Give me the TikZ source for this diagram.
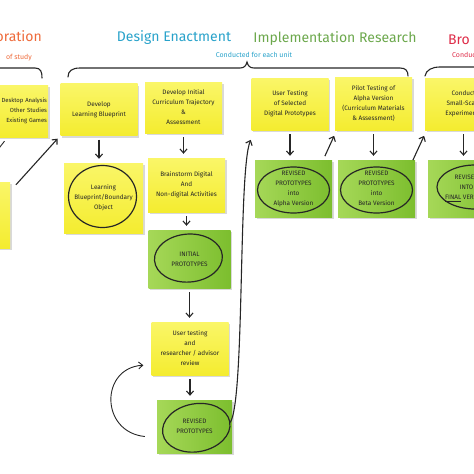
\documentclass[tikz,border=0pt]{standalone}
\usepackage{fontspec}
\setmainfont{Fira Sans}
\usetikzlibrary{shadows,arrows.meta}

\definecolor{postit}{RGB}{244,236,48}
\definecolor{postitlight}{RGB}{250,246,104}
\definecolor{leaf}{RGB}{124,190,46}
\definecolor{leaflight}{RGB}{166,216,88}
\definecolor{explcol}{RGB}{238,106,58}
\definecolor{designcol}{RGB}{40,162,202}
\definecolor{implcol}{RGB}{108,168,76}
\definecolor{broadcol}{RGB}{222,44,72}

\tikzset{
  note/.style={minimum width=77pt, minimum height=52pt, inner sep=1pt, align=center,
    font=\fontsize{6.4}{10}\selectfont, text=black!85,
    drop shadow={shadow xshift=1.5pt, shadow yshift=-2pt, opacity=0.3}},
  yellownote/.style={note, top color=postitlight, bottom color=postit},
  greennote/.style={note, left color=leaflight, right color=leaf},
  ring/.style={black!85, line width=1.2pt},
  flow/.style={->, black!85, line width=1.1pt, shorten >=4pt, shorten <=4pt},
  curveflow/.style={->, black!85, line width=0.9pt},
  brace/.style={black!85, line width=1.1pt, line cap=round},
  heading/.style={inner sep=0pt, font=\fontsize{14}{14}\selectfont},
  subheading/.style={inner sep=0pt, font=\fontsize{7}{7}\selectfont},
}

\begin{document}
\begin{tikzpicture}[x=1pt, y=-1pt, >={Straight Barb[length=4pt,width=7pt]}]
  \useasboundingbox (0,0) rectangle (474,474);
  \clip (0,0) rectangle (474,474);

  % phase titles
  \node[heading, text=explcol, anchor=east] (explore) at (42,38) {Exploration};
  \node[subheading, text=explcol, anchor=east] (exploresub) at (32,58) {of study};
  \node[heading, text=designcol] (design) at (174,38) {Design Enactment};
  \node[heading, text=implcol] (implement) at (335,39) {Implementation Research};
  \node[subheading, text=designcol] (eachunit) at (254,55) {Conducted for each unit};
  \node[heading, text=broadcol, anchor=west] (broad) at (448,40) {Bro};
  \node[subheading, text=broadcol, anchor=west] (broadsub) at (452,55) {Conducted};

  % braces
  \draw[brace] (-5,68) -- (35,68) .. controls (41,68) and (42,72) .. (42,78);
  \draw[brace] (68,77) .. controls (68,71) and (72,68) .. (80,68) -- (240,68)
    .. controls (244,68) and (246,66) .. (247,62) .. controls (248,66) and (250,68) .. (254,68)
    -- (400,68) .. controls (406,68) and (408,71) .. (408,76);
  \draw[brace] (425,76) .. controls (426,70) and (432,67) .. (440,67) -- (480,67);

  % exploration
  \node[yellownote, align=right, text width=75pt, font=\fontsize{5.9}{10}\selectfont] (desk) at (9.5,111) {Desktop Analysis\\Other Studies\\Existing Games};
  \node[yellownote, minimum height=66pt] (scan) at (-28.5,215) {};

  % design enactment
  \node[yellownote] (blueprint) at (99,109.5) {Develop\\Learning Blueprint};
  \node[yellownote, minimum width=79pt, minimum height=70pt] (boundary) at (103.5,198) {Learning\\Blueprint/Boundary\\Object};
  \node[yellownote, minimum height=51pt] (trajectory) at (183.5,107.5) {Develop Initial\\Curriculum Trajectory\\\&\\Assessment};
  \node[yellownote, minimum height=54pt] (brainstorm) at (186.5,185) {Brainstorm Digital\\And\\Non-digital Activities};
  \node[greennote, minimum width=82pt, minimum height=58pt] (initial) at (189.5,259) {INITIAL\\PROTOTYPES};
  \node[yellownote, minimum height=53pt] (review) at (190,348.5) {User testing\\and\\researcher / advisor\\review};
  \node[greennote, minimum width=75pt, minimum height=53pt] (revised) at (194.5,426.5) {REVISED\\PROTOTYPES};

  % implementation research
  \node[yellownote] (usertest) at (290,104) {User Testing\\of Selected\\Digital Prototypes};
  \node[greennote, minimum height=57pt] (alpha) at (293.5,188.5) {REVISED\\PROTOTYPES\\into\\Alpha Version};
  \node[yellownote, minimum height=53pt] (pilot) at (373.5,103.5) {Pilot Testing of\\Alpha Version\\(Curriculum Materials\\\& Assessment)};
  \node[greennote, minimum height=57pt] (beta) at (376.5,188.5) {REVISED\\PROTOTYPES\\into\\Beta Version};

  % broad
  \node[yellownote] (smallscale) at (463.5,104) {Conduct\\Small-Scale\\Experiments};
  \node[greennote, minimum height=57pt] (final) at (466.5,188.5) {REVISED\\INTO\\\underline{FINAL} VERSION};

  % circled outcomes
  \draw[ring] ([shift={(-1,-1.5)}]boundary.center) ellipse [x radius=34pt, y radius=31pt];
  \draw[ring, rotate around={4:(initial.center)}] ([shift={(-1,-1)}]initial.center) ellipse [x radius=34pt, y radius=24pt];
  \draw[ring, rotate around={10:(revised.center)}] ([shift={(1.5,1.5)}]revised.center) ellipse [x radius=34pt, y radius=24pt];
  \draw[ring] ([shift={(0,1.5)}]alpha.center) ellipse [x radius=36pt, y radius=23pt];
  \draw[ring] ([shift={(0,1.5)}]beta.center) ellipse [x radius=36pt, y radius=23pt];
  \draw[ring] ([shift={(8.5,-1.5)}]final.center) ellipse [x radius=38pt, y radius=22pt];

  % arrows
  \draw[curveflow] ([shift={(-5,4)}]desk.south) -- ([shift={(-16,18)}]desk.south);
  \draw[flow] ([shift={(3,6)}]scan.north east) -- (blueprint.south west);
  \draw[flow] (blueprint.south) -- (blueprint.south |- boundary.north);
  \draw[flow] (trajectory.south) -- (trajectory.south |- brainstorm.north);
  \draw[flow] (brainstorm.south) -- (brainstorm.south |- initial.north);
  \draw[flow] (initial.south) -- (initial.south |- review.north);
  \draw[flow] (review.south) -- (review.south |- revised.north);
  \draw[curveflow] ([shift={(-12,10)}]revised.west) .. controls (100,432) and (100,368) .. ([shift={(-8,-10)}]review.south west);
  \draw[flow, shorten <=0pt] ([shift={(-2,-4)}]revised.east) .. controls (245,400) and (238,170) .. ([shift={(1,6)}]usertest.south west);
  \draw[flow] (usertest.south) -- (usertest.south |- alpha.north);
  \draw[flow] ([shift={(-9,0)}]alpha.north east) -- ([shift={(1,2)}]pilot.south west);
  \draw[flow] (pilot.south) -- (pilot.south |- beta.north);
  \draw[flow] ([shift={(-4,4)}]beta.north east) -- ([shift={(1,2)}]smallscale.south west);
  \draw[flow] (smallscale.south) -- (smallscale.south |- final.north);
\end{tikzpicture}
\end{document}
